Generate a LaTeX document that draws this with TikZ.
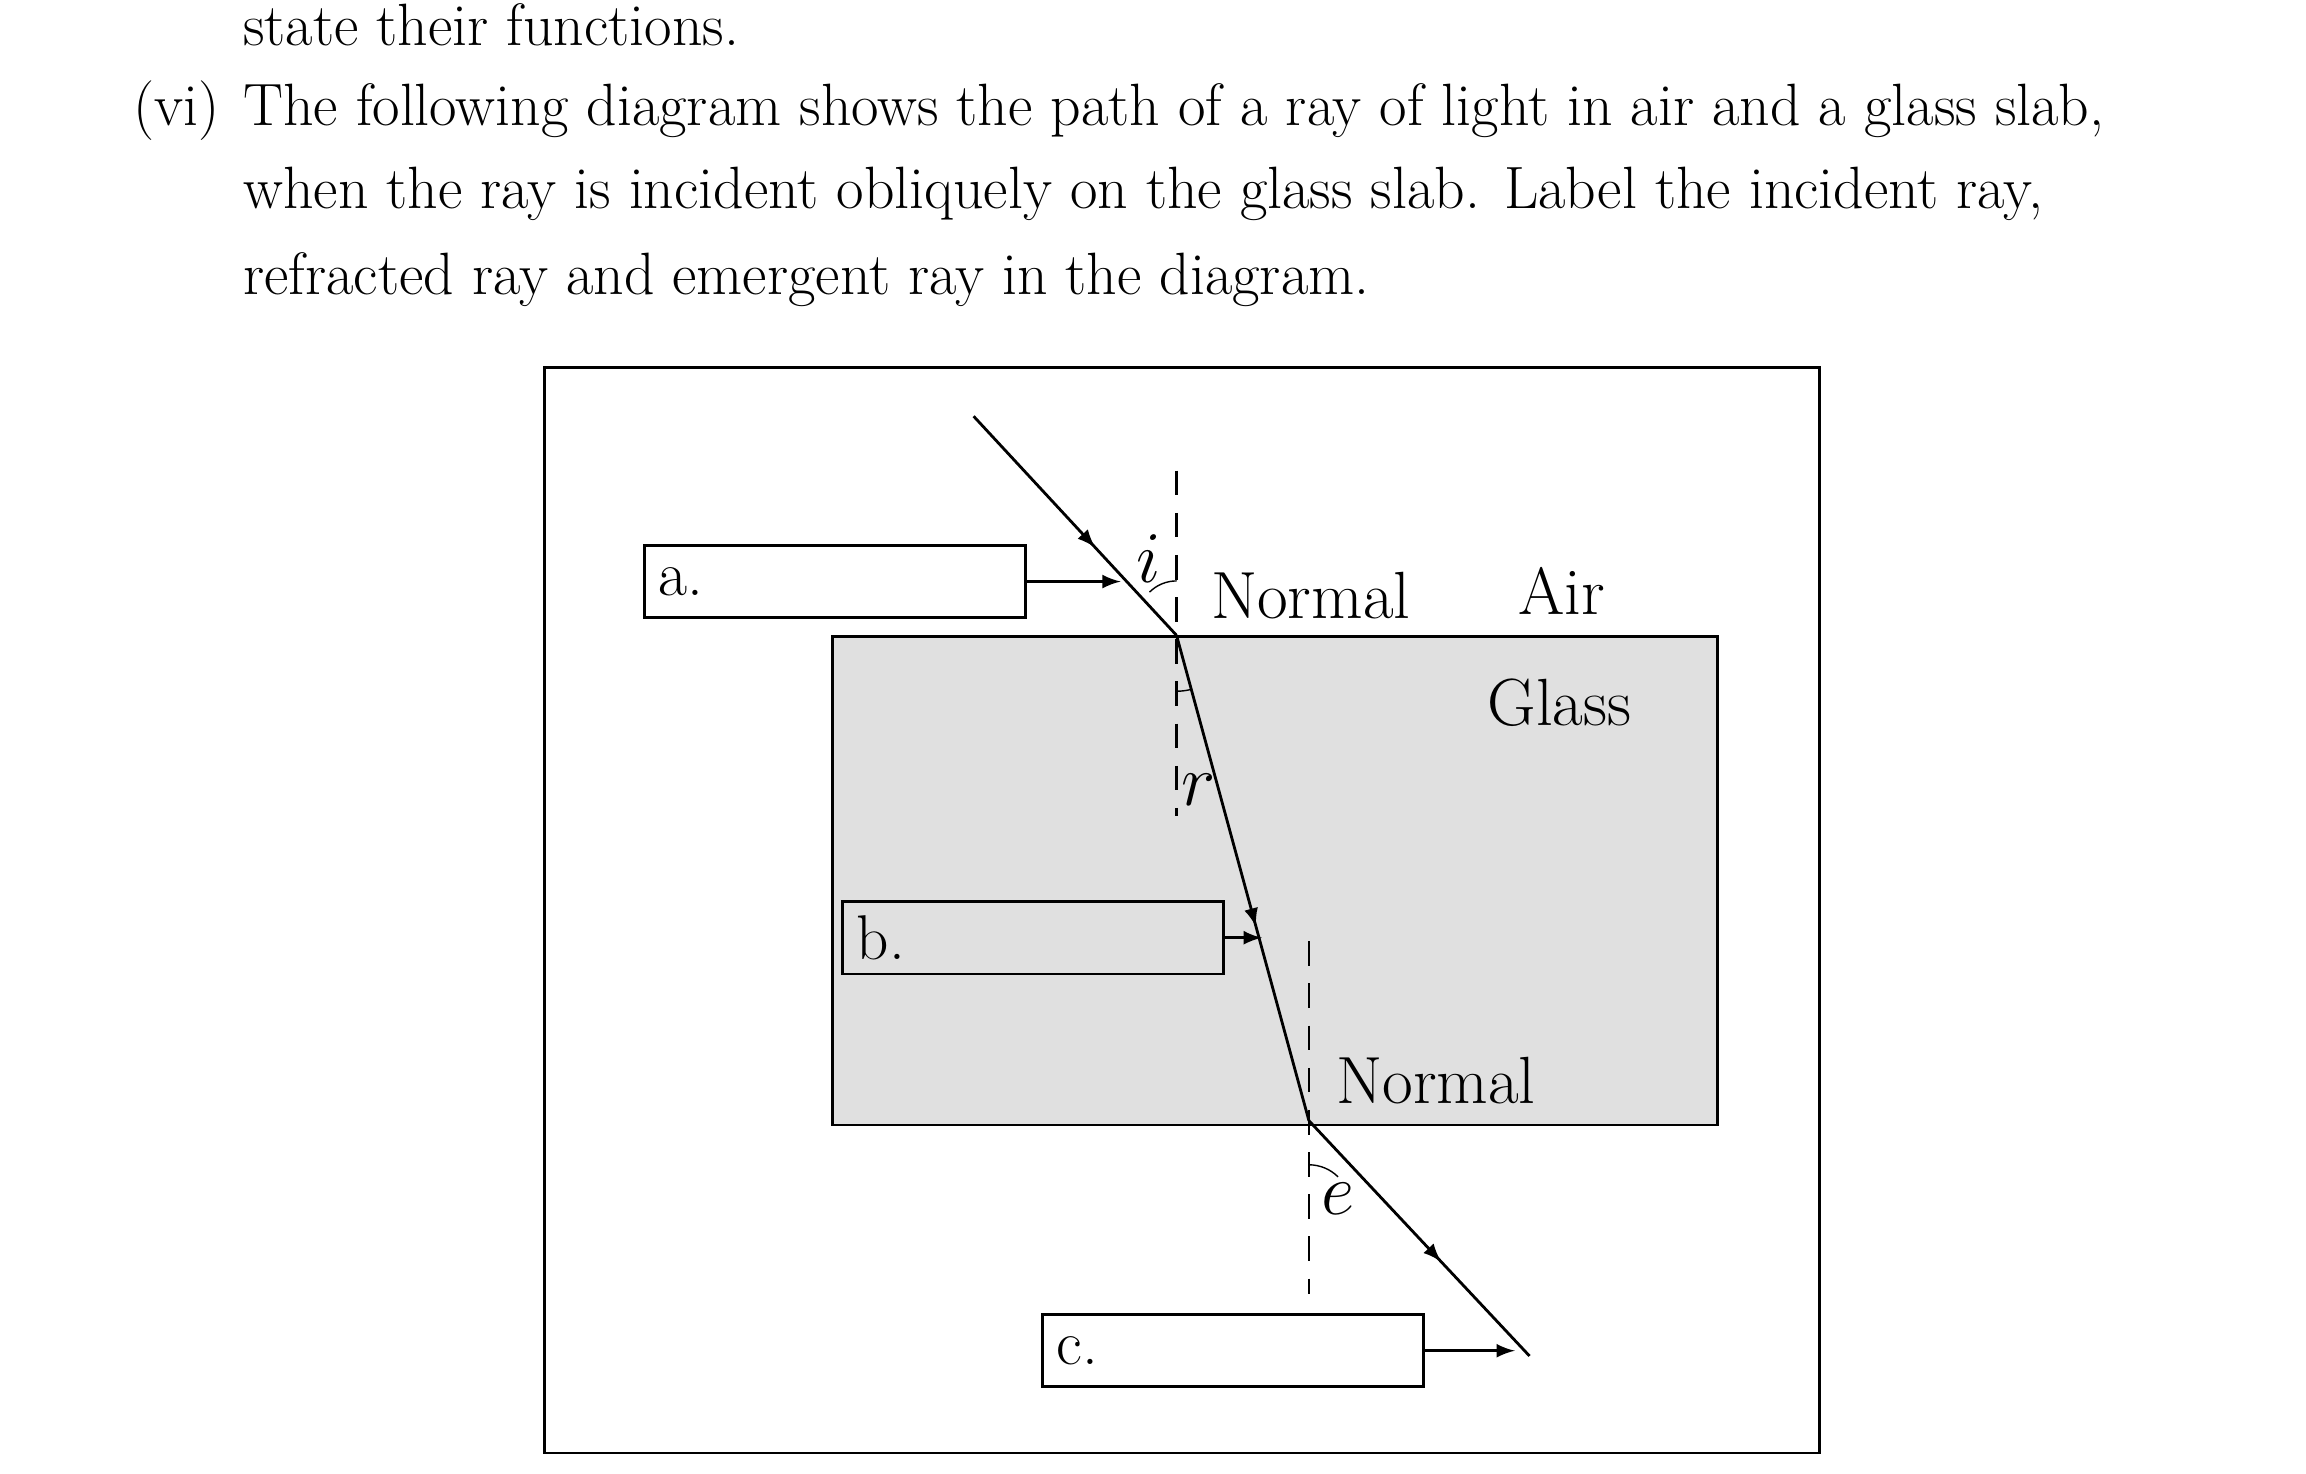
\documentclass[tikz,border=0pt]{standalone}
\usetikzlibrary{positioning,decorations.markings}
\tikzset{
  ray/.style={thick,postaction={decorate},decoration={markings,mark=at position .6 with {\arrow{latex}}}},
  labelbox/.style={draw,thick,text width=3.53cm,minimum height=0.72cm,anchor=north west,inner sep=4pt,align=left,font=\fontsize{18}{22}\selectfont},
  normalline/.style={thick,dash pattern=on 7pt off 5pt},
  txt/.style={font=\fontsize{17}{21}\selectfont,anchor=west,inner sep=0pt}
}
\begin{document}
\begin{tikzpicture}[x=0.014707cm,y=-0.014707cm]
\useasboundingbox (0,0) rectangle (1568,1002);
% question text
\node[txt] (top) at (165,17) {state their functions.};
\node[txt] (num) at (90,75) {(vi)};
\node[txt] (l1) at (165,75) {The following diagram shows the path of a ray of light in air and a glass slab,};
\node[txt] (l2) at (165,132) {when the ray is incident obliquely on the glass slab. Label the incident ray,};
\node[txt] (l3) at (165,190) {refracted ray and emergent ray in the diagram.};
% frame and slab
\draw[thick] (370,250) rectangle (1237,988);
\fill[black!12] (566,433) rectangle (1168,765);
\draw[thick] (566,433) rectangle (1168,765);
% rays
\coordinate (start) at (662,283);
\coordinate (p1) at (800,432);
\coordinate (p2) at (890,762);
\coordinate (stop) at (1040,922);
\draw[ray] (start) -- (p1);
\draw[ray] (p1) -- (p2);
\draw[ray] (p2) -- (stop);
% normals
\draw[normalline] (800,320) -- (800,555);
\draw[normalline] (890,640) -- (890,880);
% angles
\draw (800,395) arc (270:225:26);
\draw (800,470) arc (90:75:40);
\draw (890,792) arc (-90:-45:28);
\node[font=\fontsize{20}{24}\selectfont] (ang-i) at (781,380) {$i$};
\node[font=\fontsize{20}{24}\selectfont] (ang-r) at (815,537) {$r$};
\node[font=\fontsize{20}{24}\selectfont] (ang-e) at (910,815) {$e$};
\node[txt,font=\fontsize{19}{23}\selectfont] (n1) at (823,405) {Normal};
\node[txt,font=\fontsize{19}{23}\selectfont] (air) at (1032,402) {Air};
\node[txt,font=\fontsize{19}{23}\selectfont] (glass) at (1011,478) {Glass};
\node[txt,font=\fontsize{19}{23}\selectfont] (n2) at (908,735) {Normal};
% answer boxes
\node[labelbox] (boxa) at (437,370) {a.};
\node[labelbox] (boxb) at (572,612) {b.};
\node[labelbox] (boxc) at (708,893) {c.};
\coordinate (ta) at (762,393);
\coordinate (tb) at (858,636);
\coordinate (tc) at (1030,915);
\draw[thick,-latex] (boxa.east) -- (boxa.east -| ta);
\draw[thick,-latex] (boxb.east) -- (boxb.east -| tb);
\draw[thick,-latex] (boxc.east) -- (boxc.east -| tc);
\end{tikzpicture}
\end{document}
